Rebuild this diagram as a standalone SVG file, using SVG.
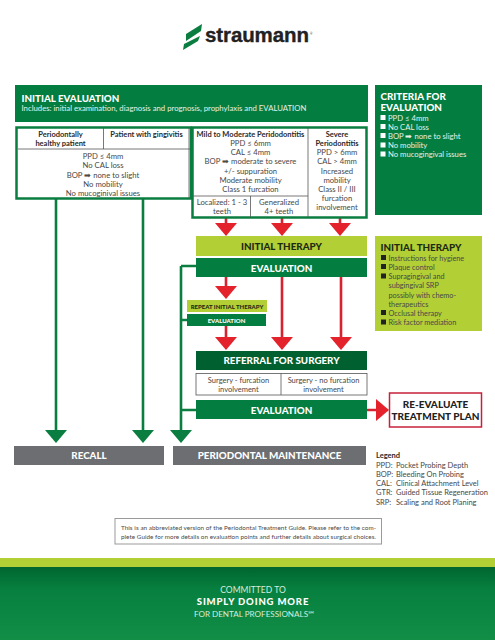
<svg xmlns="http://www.w3.org/2000/svg" width="495" height="640" viewBox="0 0 495 640">
<style>
text{font-family:"Lato","Liberation Sans",sans-serif;fill:#484848}
.c{text-anchor:middle}
.t{font-size:7.7px}
.tb{font-size:7.5px;font-weight:700;fill:#2a2a2a}
.h{font-size:9.8px;font-weight:900;fill:#fff}
.hd{font-size:9.8px;font-weight:900;fill:#1d2b14}
.cr{fill:#e4f1e8}
.cell{fill:#fff;stroke:#555;stroke-width:.8}
.div{stroke:#555;stroke-width:.8;fill:none}
.gl{stroke:#0a7d40;stroke-width:2.6;fill:none}
.rl{stroke:#d7232f;stroke-width:2.6;fill:none}
.ra{fill:#e3222b}
.ga{fill:#0a7d40}
</style>
<defs>
<linearGradient id="foot" x1="0" y1="0" x2="0" y2="1"><stop offset="0" stop-color="#00652f"/><stop offset=".3" stop-color="#07803f"/><stop offset="1" stop-color="#128e47"/></linearGradient>
</defs>
<rect width="495" height="640" fill="#fff"/>
<g id="logo">
<polygon points="202,24 201,31 186,41 186,34" fill="#0a7d40"/>
<polygon points="200,36 198,41 183,50 184,44" fill="#0a7d40"/>
<text x="205" y="42" font-size="20.500" font-weight="700" textLength="104" stroke="#222" stroke-width=".35" style="fill:#222;font-family:'Liberation Sans',sans-serif">straumann</text>
<text x="310" y="35" font-size="3" style="fill:#222">®</text>
</g>
<g id="connectors">
<path class="gl" d="M56 199V431M143 199V431M181 266V431M181 266H196M181 320H187M181 410H196"/>
<polygon class="ga" points="45,430 67,430 56,443"/><polygon class="ga" points="132,430 154,430 143,443"/><polygon class="ga" points="170,430 192,430 181,443"/>
<path class="rl" d="M226 218V224M282 218V224M340 218V224M226 277V287M226 326V338M282 277V338M341 277V338M367 410H377"/>
<polygon class="ra" points="215,223 237,223 226,236"/><polygon class="ra" points="271,223 293,223 282,236"/><polygon class="ra" points="329,223 351,223 340,236"/>
<polygon class="ra" points="215,286 237,286 226,299"/>
<polygon class="ra" points="215,337 237,337 226,350"/><polygon class="ra" points="271,337 293,337 282,350"/><polygon class="ra" points="330,337 352,337 341,350"/>
<polygon class="ra" points="376,399 389,410 376,421"/>
</g>
<g id="initial-evaluation">
<rect x="15" y="85" width="353" height="37" fill="#047d40"/>
<text x="21.500" y="101.500" class="h">INITIAL EVALUATION</text>
<text x="21.500" y="110.500" class="cr" font-size="7.750">Includes: initial examination, diagnosis and prognosis, prophylaxis and EVALUATION</text>
</g>
<g id="criteria">
<rect x="375" y="85" width="107" height="130" fill="#047d40"/>
<text x="380.500" y="100" class="h">CRITERIA FOR</text>
<text x="380.500" y="111" class="h">EVALUATION</text>
<g class="t"><rect x="380.500" y="115" width="5" height="5" fill="#fff"/><text x="388" y="120.500" class="cr">PPD ≤ 4mm</text>
<rect x="380.500" y="124" width="5" height="5" fill="#fff"/><text x="388" y="129.500" class="cr">No CAL loss</text>
<rect x="380.500" y="133" width="5" height="5" fill="#fff"/><text x="388" y="138.500" class="cr">BOP ➡ none to slight</text>
<rect x="380.500" y="142.500" width="5" height="5" fill="#fff"/><text x="388" y="148" class="cr">No mobility</text>
<rect x="380.500" y="151.500" width="5" height="5" fill="#fff"/><text x="388" y="157" class="cr">No mucogingival issues</text></g>
</g>
<g id="table-healthy">
<rect x="16.500" y="127.500" width="174.500" height="71" fill="#fff" stroke="#0a7d40" stroke-width="2.500"/>
<path class="div" d="M18 149H190M103.500 128V149M189 128V198"/>
<text x="60.500" y="137" class="tb c">Periodontally</text><text x="60.500" y="146" class="tb c">healthy patient</text>
<text x="146.500" y="137" class="tb c">Patient with gingivitis</text>
<g class="t c"><text x="103" y="159">PPD ≤ 4mm</text><text x="103" y="168">No CAL loss</text><text x="103" y="177.500">BOP ➡ none to slight</text><text x="103" y="186.500">No mobility</text><text x="103" y="195.500">No mucoginival issues</text></g>
</g>
<g id="table-perio">
<rect x="192.500" y="127.500" width="174" height="90" fill="#fff" stroke="#0a7d40" stroke-width="2.500"/>
<path class="div" d="M308 128V217M193 196H308M250.500 196V217"/>
<g class="c"><text x="250.500" y="137" class="tb">Mild to Moderate Peridodontitis</text>
<g class="t"><text x="250.500" y="146">PPD ≤ 6mm</text><text x="250.500" y="155">CAL ≤ 4mm</text><text x="250.500" y="164">BOP ➡ moderate to severe</text><text x="250.500" y="173.500">+/- suppuration</text><text x="250.500" y="182.500">Moderate mobility</text><text x="250.500" y="191.500">Class 1 furcation</text>
<text x="222" y="205">Localized: 1 - 3</text><text x="222" y="214">teeth</text><text x="279" y="205">Generalized</text><text x="279" y="214">4+ teeth</text></g>
<text x="337" y="137" class="tb">Severe</text><text x="337" y="146" class="tb">Periodontitis</text>
<g class="t"><text x="337" y="155">PPD &gt; 6mm</text><text x="337" y="164">CAL &gt; 4mm</text><text x="337" y="173.500">Increased</text><text x="337" y="182.500">mobility</text><text x="337" y="191.500">Class II / III</text><text x="337" y="201">furcation</text><text x="337" y="210">involvement</text></g></g>
</g>
<g id="initial-therapy"><rect x="196" y="236" width="171" height="20" fill="#b2cf36"/><text x="281.500" y="249.500" class="hd c">INITIAL THERAPY</text></g>
<g id="evaluation-1"><rect x="196" y="258" width="171" height="19" fill="#047d40"/><text x="281.500" y="271.500" class="h c">EVALUATION</text></g>
<g id="repeat-therapy"><rect x="187" y="300" width="80" height="12" fill="#b2cf36"/><text x="227" y="308.500" font-size="6" font-weight="900" class="c" style="fill:#1d2b14">REPEAT INITIAL THERAPY</text></g>
<g id="evaluation-2"><rect x="187" y="314" width="79" height="12" fill="#047d40"/><text x="226.500" y="322.500" font-size="6" font-weight="900" class="c" style="fill:#fff">EVALUATION</text></g>
<g id="referral"><rect x="196" y="351" width="171" height="19" fill="#00602f"/><text x="281.500" y="364" class="h c">REFERRAL FOR SURGERY</text></g>
<g id="surgery"><rect x="196" y="373.500" width="171" height="21.500" class="cell"/><path class="div" d="M281 373.500V395"/>
<g class="c" font-size="7.500"><text x="238.500" y="383">Surgery - furcation</text><text x="238.500" y="392">involvement</text><text x="323.500" y="383">Surgery - no furcation</text><text x="323.500" y="392">involvement</text></g></g>
<g id="evaluation-3"><rect x="196" y="400" width="171" height="19" fill="#047d40"/><text x="281.500" y="413.500" class="h c">EVALUATION</text></g>
<g id="re-evaluate"><rect x="389.500" y="393" width="92" height="34" fill="#fff" stroke="#c8203a" stroke-width="1.500"/><text x="435.500" y="408" class="c" font-size="10" font-weight="900" style="fill:#222">RE-EVALUATE</text><text x="435.500" y="419.500" class="c" font-size="10" font-weight="900" style="fill:#222">TREATMENT PLAN</text></g>
<g id="therapy-criteria">
<rect x="375" y="236" width="107" height="95" fill="#b2cf36"/>
<text x="380.500" y="251" class="hd">INITIAL THERAPY</text>
<g fill="#222"><rect x="381" y="255" width="5" height="5"/><rect x="381" y="264" width="5" height="5"/><rect x="381" y="273.500" width="5" height="5"/><rect x="381" y="310" width="5" height="5"/><rect x="381" y="319.500" width="5" height="5"/></g>
<g font-size="7.300"><text x="388.500" y="260.500">Instructions for hygiene</text><text x="388.500" y="269.500">Plaque control</text><text x="388.500" y="279">Supragingival and</text><text x="388.500" y="288">subgingival SRP</text><text x="388.500" y="297.500">possibly with chemo-</text><text x="388.500" y="306.500">therapeutics</text><text x="388.500" y="315.500">Occlusal therapy</text><text x="388.500" y="325">Risk factor mediation</text></g>
</g>
<g id="recall"><rect x="14" y="446" width="150" height="19" fill="#6d6e71"/><text x="89" y="458.500" class="h c">RECALL</text></g>
<g id="maintenance"><rect x="173" y="446" width="193" height="19" fill="#6d6e71"/><text x="269.500" y="458.500" class="h c">PERIODONTAL MAINTENANCE</text></g>
<g id="legend">
<text x="376" y="458" class="tb">Legend</text>
<g font-size="7.500"><text x="376" y="467.500">PPD:</text><text x="396" y="467.500">Pocket Probing Depth</text><text x="376" y="476.500">BOP:</text><text x="396" y="476.500">Bleeding On Probing</text><text x="376" y="486">CAL:</text><text x="396" y="486">Clinical Attachment Level</text><text x="376" y="495">GTR:</text><text x="396" y="495">Guided Tissue Regeneration</text><text x="376" y="504.500">SRP:</text><text x="396" y="504.500">Scaling and Root Planing</text></g>
</g>
<g id="note"><rect x="115" y="518.500" width="266.500" height="25.500" fill="#fff" stroke="#9a9a9a"/>
<text x="121" y="530" font-size="6.300" textLength="255">This is an abbreviated version of the Periodontal Treatment Guide.  Please refer to the com-</text>
<text x="121" y="539" font-size="6.300" textLength="255">plete Guide for more details on evaluation points and further details about surgical choices.</text></g>
<g id="footer"><rect x="0" y="558" width="495" height="9" fill="#b2cf36"/><rect x="0" y="567" width="495" height="73" fill="url(#foot)"/>
<text x="253" y="593" class="c" font-size="8.500" style="fill:#d6ecdc">COMMITTED TO</text>
<text x="253" y="604.500" class="c" font-size="9.500" font-weight="900" style="fill:#fff;letter-spacing:.85px">SIMPLY DOING MORE</text>
<text x="254" y="617" class="c" font-size="8.100" style="fill:#d6ecdc">FOR DENTAL PROFESSIONALS℠</text></g>
</svg>
